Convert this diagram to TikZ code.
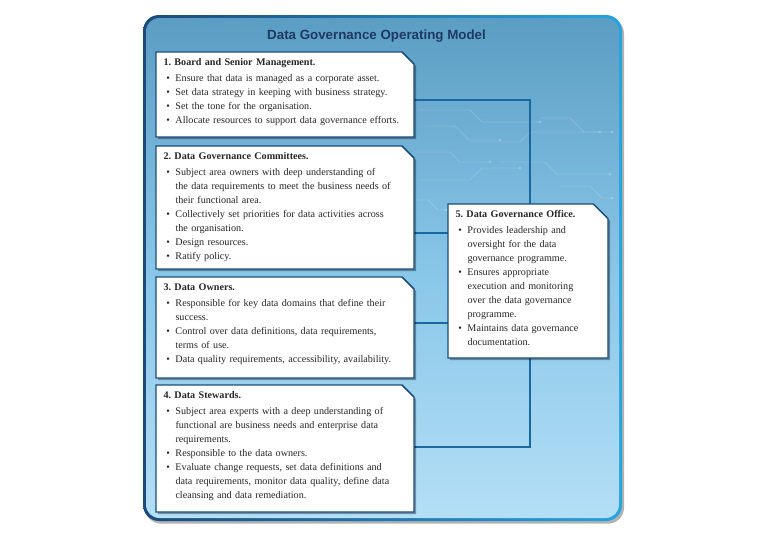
\documentclass[tikz,border=0pt]{standalone}
\usepackage{fontspec}
\setmainfont{Liberation Serif}
\newfontfamily\headfont{Liberation Sans}
\usetikzlibrary{positioning,shadows,calc}

\definecolor{panelTop}{HTML}{5B9DC3}
\definecolor{panelMid}{HTML}{88C6E8}
\definecolor{panelBot}{HTML}{B4DFF6}
\definecolor{edgeDark}{HTML}{1C4A7A}
\definecolor{edgeBright}{HTML}{27A4DE}
\definecolor{cardEdge}{HTML}{1B4C7C}
\definecolor{linkBlue}{HTML}{1A68A0}
\definecolor{titleInk}{HTML}{1F3A62}
\definecolor{cardInk}{HTML}{262626}

\pgfdeclarelayer{panel}
\pgfdeclarelayer{links}
\pgfdeclarelayer{cards}
\pgfsetlayers{panel,links,cards,main}

\frenchspacing
\newcommand{\bitem}[1]{\par\hangindent=9pt\hangafter=1\noindent\hbox to 9pt{\hskip2.2pt\textbullet\hss}#1\par}
\newcommand{\cardhead}[1]{\textbf{#1}\par\vspace{1.5pt}}
% y is flipped, so a positive yshift goes down
\newcommand{\cardframe}[2]{%
  \filldraw[frame] (#1.south west) -- (#1.north west) -- ([xshift=-#2]#1.north east)
    -- ([yshift=#2]#1.north east) -- (#1.south east) -- cycle;}

\tikzset{every picture/.style={line width=0.75pt}}
\tikzset{
  card/.style={anchor=north west, inner xsep=5.25pt, inner ysep=0pt, text height=10pt,
    font=\fontsize{7.6}{10.5}\selectfont, text=cardInk},
  frame/.style={draw=cardEdge, fill=white, line width=1.1pt,
    drop shadow={shadow xshift=1.6pt, shadow yshift=-1.6pt, opacity=0.35, fill=black}},
  link/.style={draw=linkBlue, line width=1.6pt},
  trace/.style={draw=white, opacity=0.15, line width=0.6pt},
  tracedot/.style={fill=white, opacity=0.2},
}

\begin{document}
\begin{tikzpicture}[x=0.75pt,y=0.75pt,yscale=-1,xscale=1]
\useasboundingbox (0,0) rectangle (768,543);

% Cards
\node[card, text width=182.25pt, text depth=53pt] (b1) at (156,52) {%
  \cardhead{1. Board and Senior Management.}
  \bitem{Ensure that data is managed as a corporate asset.}
  \bitem{Set data strategy in keeping with business strategy.}
  \bitem{Set the tone for the organisation.}
  \bitem{Allocate resources to support data governance efforts.}};
\node[card, text width=182.25pt, text depth=81.5pt] (b2) at (156,146) {%
  \cardhead{2. Data Governance Committees.}
  \bitem{Subject area owners with deep understanding of\newline the data requirements to meet the business needs of\newline their functional area.}
  \bitem{Collectively set priorities for data activities across\newline the organisation.}
  \bitem{Design resources.}
  \bitem{Ratify policy.}};
\node[card, text width=182.25pt, text depth=65pt] (b3) at (156,277) {%
  \cardhead{3. Data Owners.}
  \bitem{Responsible for key data domains that define their\newline success.}
  \bitem{Control over data definitions, data requirements,\newline terms of use.}
  \bitem{Data quality requirements, accessibility, availability.}};
\node[card, text width=182.25pt, text depth=84.5pt] (b4) at (156,385) {%
  \cardhead{4. Data Stewards.}
  \bitem{Subject area experts with a deep understanding of\newline functional are business needs and enterprise data\newline requirements.}
  \bitem{Responsible to the data owners.}
  \bitem{Evaluate change requests, set data definitions and\newline data requirements, monitor data quality, define data\newline cleansing and data remediation.}};
\node[card, text width=108.75pt, text depth=104.75pt] (b5) at (448,204) {%
  \cardhead{5. Data Governance Office.}
  \bitem{Provides leadership and\newline oversight for the data\newline governance programme.}
  \bitem{Ensures appropriate\newline execution and monitoring\newline over the data governance\newline programme.}
  \bitem{Maintains data governance\newline documentation.}};

% Title
\node[font=\headfont\bfseries\fontsize{10}{12}\selectfont, text=titleInk] (ttl) at (376.5,36) {Data Governance Operating Model};

\begin{pgfonlayer}{cards}
\cardframe{b1}{9pt}
\cardframe{b2}{9pt}
\cardframe{b3}{9pt}
\cardframe{b4}{9pt}
\cardframe{b5}{11pt}
\end{pgfonlayer}

% Connectors
\begin{pgfonlayer}{links}
\coordinate (bt) at (530,100);
\coordinate (bb) at (530,447);
\coordinate (k2) at (0,233);
\coordinate (k3) at (0,323);
\draw[link] (b1.east |- bt) -- (bt) -- (bb) -- (b4.east |- bb);
\draw[link] (b2.east |- k2) -- (b5.west |- k2);
\draw[link] (b3.east |- k3) -- (b5.west |- k3);
\end{pgfonlayer}

% Panel
\begin{pgfonlayer}{panel}
\path[left color=edgeDark, right color=edgeBright, rounded corners=12pt,
  drop shadow={shadow xshift=1.5pt, shadow yshift=-2pt, opacity=0.3, fill=black}]
  (143,15) rectangle (622,521);
\path[top color=panelTop, bottom color=panelBot, middle color=panelMid, rounded corners=10pt]
  (146,18) rectangle (619,518);
\foreach \xa/\ya/\xb/\d/\xc in {420/110/470/12/540, 425/126/455/14/500, 470/142/520/-10/600,
    415/152/450/10/490, 540/118/570/14/612, 500/162/545/12/610, 420/180/470/-12/520,
    560/186/590/12/612, 412/200/428/10/446, 455/218/470/-8/500}{
  \draw[trace] (\xa,\ya) -- (\xb,\ya) -- ++({abs(\d)},\d) -- (\xc,\ya+\d);
  \fill[tracedot] (\xc,\ya+\d) circle[radius=1.3pt];
}
\end{pgfonlayer}

\end{tikzpicture}
\end{document}
